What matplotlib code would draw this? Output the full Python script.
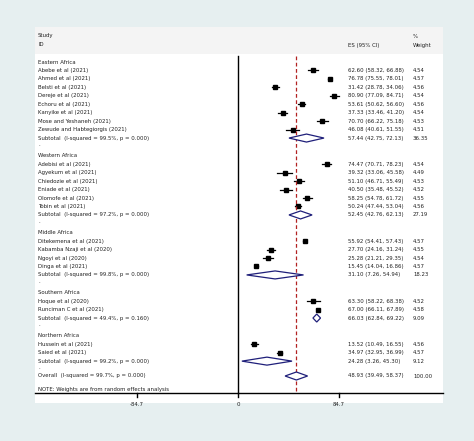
import matplotlib.pyplot as plt
from matplotlib.patches import Polygon, Rectangle

# rows: (kind, label, es, lo, hi, weight)
studies = ["Abebe et al (2021)", "Ahmed et al (2021)", "Belsti et al (2021)", "Dereje et al (2021)",
           "Echoru et al (2021)", "Kanyike et al (2021)", "Mose and Yeshaneh (2021)",
           "Zewude and Habtegiorgis (2021)",
           "Adebisi et al (2021)", "Agyekum et al (2021)", "Chiedozie et al (2021)", "Eniade et al (2021)",
           "Olomofe et al (2021)", "Tobin et al (2021)",
           "Ditekemena et al (2021)", "Kabamba Nzaji et al (2020)", "Ngoyi et al (2020)", "Dinga et al (2021)",
           "Hoque et al (2020)", "Runciman C et al (2021)",
           "Hussein et al (2021)", "Saied et al (2021)"]
es = [62.60, 76.78, 31.42, 80.90, 53.61, 37.33, 70.70, 46.08,
      74.47, 39.32, 51.10, 40.50, 58.25, 50.24,
      55.92, 27.70, 25.28, 15.45,
      63.30, 67.00,
      13.52, 34.97]
lo = [58.32, 75.55, 28.78, 77.09, 50.62, 33.46, 66.22, 40.61,
      70.71, 33.06, 46.71, 35.48, 54.78, 47.44,
      54.41, 24.16, 21.21, 14.04,
      58.22, 66.11,
      10.49, 32.95]
hi = [66.88, 78.01, 34.06, 84.71, 56.60, 41.20, 75.18, 51.55,
      78.23, 45.58, 55.49, 45.52, 61.72, 53.04,
      57.43, 31.24, 29.35, 16.86,
      68.38, 67.89,
      16.55, 36.99]
weights = [4.54, 4.57, 4.56, 4.54, 4.56, 4.54, 4.53, 4.51,
           4.54, 4.49, 4.53, 4.52, 4.55, 4.56,
           4.57, 4.55, 4.54, 4.57,
           4.52, 4.58,
           4.56, 4.57]
regions = ["Eastern Africa", "Western Africa", "Middle Africa", "Southern Africa", "Northern Africa"]
region_sizes = [8, 6, 4, 2, 2]
sub_i2 = ["99.5%, p = 0.000", "97.2%, p = 0.000", "99.8%, p = 0.000", "49.4%, p = 0.160", "99.2%, p = 0.000"]
sub_es = [57.44, 52.45, 31.10, 66.03, 24.28]
sub_lo = [42.75, 42.76, 7.26, 62.84, 3.26]
sub_hi = [72.13, 62.13, 54.94, 69.22, 45.30]
sub_w = [36.35, 27.19, 18.23, 9.09, 9.12]
overall = (48.93, 39.49, 58.37, 100.00)
ticks = [-84.7, 0, 84.7]

W, H = 474, 441
fig = plt.figure(figsize=(W / 100, H / 100), dpi=100, facecolor="#e6eff0")
ax = fig.add_axes([0, 0, 1, 1])
sc = 84.7 / 101.0
ax.set_xlim(-238 * sc, (W - 238) * sc)
ax.set_ylim(H, 0)
ax.axis("off")

x_left, x_right = -203 * sc, 205 * sc
x_lab, x_es, x_w = -200 * sc, 110 * sc, 175 * sc
fs = 3.9
tc = "#222222"

ax.add_patch(Rectangle((x_left, 27), x_right - x_left, 376, facecolor="white", edgecolor="none", zorder=0))
ax.add_patch(Rectangle((x_left, 27), x_right - x_left, 27, facecolor="#f4f4f4", edgecolor="none", zorder=0.5))

ax.text(x_lab, 36, "Study", fontsize=fs, va="center", color=tc)
ax.text(x_lab, 45, "ID", fontsize=fs, va="center", color=tc)
ax.text(x_es, 45, "ES (95% CI)", fontsize=fs, va="center", color=tc)
ax.text(x_w, 36, "%", fontsize=fs, va="center", color=tc)
ax.text(x_w, 45, "Weight", fontsize=fs, va="center", color=tc)

step = 8.45
y = 62.0
k = 0
for r, n in enumerate(regions):
    ax.text(x_lab, y, n, fontsize=fs, va="center", color=tc)
    y += step
    for j in range(region_sizes[r]):
        ax.plot([lo[k], hi[k]], [y, y], color="black", lw=0.9)
        ax.plot(es[k], y, marker="s", color="black", ms=2.2)
        ax.text(x_lab, y, studies[k], fontsize=fs, va="center", color=tc)
        ax.text(x_es, y, f"{es[k]:.2f} ({lo[k]:.2f}, {hi[k]:.2f})", fontsize=fs, va="center", color=tc)
        ax.text(x_w, y, f"{weights[k]:.2f}", fontsize=fs, va="center", color=tc)
        y += step
        k += 1
    ax.add_patch(Polygon([[sub_lo[r], y], [sub_es[r], y - 4], [sub_hi[r], y], [sub_es[r], y + 4]],
                         closed=True, facecolor="white", edgecolor="#1f1f7a", lw=0.9, zorder=3))
    ax.text(x_lab, y, f"Subtotal  (I-squared = {sub_i2[r]})", fontsize=fs, va="center", color=tc)
    ax.text(x_es, y, f"{sub_es[r]:.2f} ({sub_lo[r]:.2f}, {sub_hi[r]:.2f})", fontsize=fs, va="center", color=tc)
    ax.text(x_w, y, f"{sub_w[r]:.2f}", fontsize=fs, va="center", color=tc)
    ax.text(x_lab, y + step - 2, ".", fontsize=fs, va="center", color=tc)
    y += 2.1 * step

yo = 376
oe, ol, oh, ow = overall
ax.add_patch(Polygon([[ol, yo], [oe, yo - 4], [oh, yo], [oe, yo + 4]],
                     closed=True, facecolor="white", edgecolor="#1f1f7a", lw=0.9, zorder=3))
ax.text(x_lab, yo, "Overall  (I-squared = 99.7%, p = 0.000)", fontsize=fs, va="center", color=tc)
ax.text(x_es, yo, f"{oe:.2f} ({ol:.2f}, {oh:.2f})", fontsize=fs, va="center", color=tc)
ax.text(x_w, yo, f"{ow:.2f}", fontsize=fs, va="center", color=tc)
ax.text(x_lab, 389, "NOTE: Weights are from random effects analysis", fontsize=fs, va="center", color=tc)

y_axis = 393
ax.plot([0, 0], [56, y_axis], color="black", lw=1.0)
ax.plot([oe, oe], [56, y_axis], color="#b22222", lw=0.9, ls=(0, (3, 2)))
ax.plot([x_left, x_right], [y_axis, y_axis], color="black", lw=1.0)
for t in ticks:
    ax.plot([t, t], [y_axis, y_axis + 4], color="black", lw=1.0)
    ax.text(t, 405, f"{t:g}", fontsize=fs, ha="center", va="center", color=tc)

fig.savefig("out.png", dpi=100, facecolor=fig.get_facecolor())
